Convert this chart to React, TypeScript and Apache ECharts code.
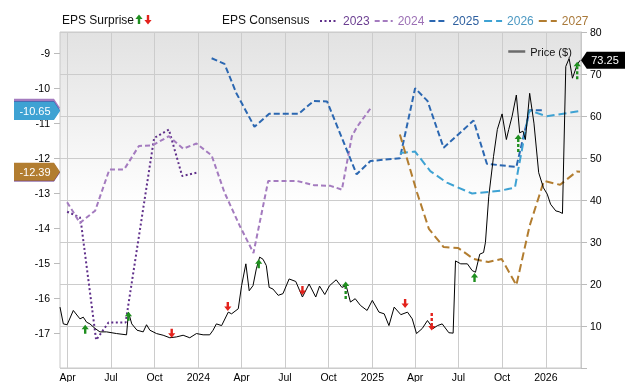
import React, { useEffect, useRef } from 'react';
import * as echarts from 'echarts';

const FONT = '"Liberation Sans", Arial, Helvetica, sans-serif';

const X_MIN = '2023-03-16';
const X_MAX = '2026-03-16';
const X_TICKS = ['2023-04-01', '2023-07-01', '2023-10-01', '2024-01-01', '2024-04-01', '2024-07-01', '2024-10-01', '2025-01-01', '2025-04-01', '2025-07-01', '2025-10-01', '2026-01-01'];
const X_TICK_LABELS = ['Apr', 'Jul', 'Oct', '2024', 'Apr', 'Jul', 'Oct', '2025', 'Apr', 'Jul', 'Oct', '2026'];
const EPS_TICKS = [-17, -16, -15, -14, -13, -12, -11, -10, -9];

const PRICE: [string, number][] = [
  ['2023-03-16', 14.5], ['2023-03-23', 10.5], ['2023-03-31', 10.3], ['2023-04-13', 13.7], ['2023-04-27', 11.7],
  ['2023-05-04', 12.1], ['2023-05-11', 10.9], ['2023-05-18', 10.5], ['2023-05-29', 9.4], ['2023-06-08', 8.6],
  ['2023-06-22', 8.6], ['2023-07-13', 8.2], ['2023-08-03', 7.9], ['2023-08-07', 13.3], ['2023-08-14', 10.5],
  ['2023-08-25', 9.0], ['2023-09-07', 8.6], ['2023-09-14', 10.3], ['2023-09-21', 9.0], ['2023-10-05', 8.2],
  ['2023-10-19', 7.8], ['2023-11-02', 7.2], ['2023-11-16', 7.4], ['2023-11-30', 7.8], ['2023-12-14', 7.2],
  ['2023-12-28', 8.2], ['2024-01-11', 7.9], ['2024-01-25', 7.9], ['2024-02-01', 9.0], ['2024-02-08', 10.5],
  ['2024-02-19', 10.1], ['2024-03-04', 13.3], ['2024-03-11', 12.9], ['2024-03-25', 14.1], ['2024-04-01', 19.6],
  ['2024-04-10', 24.8], ['2024-04-17', 18.4], ['2024-04-25', 19.6], ['2024-05-02', 23.6], ['2024-05-09', 26.4],
  ['2024-05-16', 25.9], ['2024-05-23', 24.4], ['2024-05-29', 19.2], ['2024-06-06', 18.8], ['2024-06-17', 17.3],
  ['2024-06-27', 17.7], ['2024-07-10', 21.2], ['2024-07-24', 20.6], ['2024-08-07', 16.9], ['2024-08-21', 20.0],
  ['2024-09-04', 16.9], ['2024-09-12', 19.5], ['2024-09-23', 17.5], ['2024-10-03', 19.6], ['2024-10-17', 21.0],
  ['2024-10-29', 19.2], ['2024-11-07', 19.6], ['2024-11-16', 15.7], ['2024-11-26', 16.5], ['2024-12-07', 14.9],
  ['2024-12-21', 13.7], ['2025-01-01', 16.1], ['2025-01-15', 13.3], ['2025-01-26', 12.9], ['2025-02-05', 10.1],
  ['2025-02-16', 14.5], ['2025-03-02', 12.7], ['2025-03-16', 13.3], ['2025-03-26', 11.7], ['2025-04-04', 8.2],
  ['2025-04-16', 9.4], ['2025-04-27', 11.3], ['2025-05-09', 9.4], ['2025-05-18', 10.1], ['2025-05-28', 10.5],
  ['2025-06-11', 8.4], ['2025-06-20', 8.3], ['2025-06-25', 25.5], ['2025-07-06', 24.8], ['2025-07-20', 24.8],
  ['2025-07-30', 23.2], ['2025-08-06', 22.8], ['2025-08-15', 27.1], ['2025-08-23', 27.5], ['2025-08-27', 29.9],
  ['2025-09-03', 40.9], ['2025-09-13', 50.4], ['2025-09-21', 56.8], ['2025-10-01', 60.5], ['2025-10-10', 54.4],
  ['2025-10-15', 56.8], ['2025-10-22', 59.9], ['2025-10-31', 65.0], ['2025-11-07', 56.0], ['2025-11-14', 56.4],
  ['2025-11-19', 54.4], ['2025-11-28', 65.4], ['2025-12-07', 58.3], ['2025-12-17', 46.5], ['2025-12-27', 42.9],
  ['2026-01-04', 41.4], ['2026-01-11', 39.0], ['2026-01-22', 37.4], ['2026-01-29', 37.2], ['2026-02-05', 36.8],
  ['2026-02-12', 71.8], ['2026-02-19', 73.7], ['2026-02-26', 69.0], ['2026-03-08', 72.2], ['2026-03-14', 73.25],
];

const EPS_2023: [string, number][] = [
  ['2023-03-31', -13.53], ['2023-04-27', -13.69], ['2023-04-30', -13.93], ['2023-05-31', -17.2],
  ['2023-06-26', -16.7], ['2023-08-01', -16.7], ['2023-09-30', -11.42], ['2023-10-31', -11.18],
  ['2023-11-28', -12.51], ['2023-12-30', -12.41],
];
const EPS_2024: [string, number][] = [
  ['2023-03-31', -13.26], ['2023-04-27', -13.85], ['2023-05-29', -13.5], ['2023-06-28', -12.32],
  ['2023-07-29', -12.32], ['2023-08-29', -11.65], ['2023-09-27', -11.63], ['2023-10-31', -11.37],
  ['2023-11-30', -11.73], ['2023-12-28', -11.58], ['2024-01-29', -11.92], ['2024-02-25', -12.98],
  ['2024-03-28', -13.93], ['2024-04-26', -14.71], ['2024-05-27', -12.65], ['2024-07-26', -12.65],
  ['2024-08-31', -12.77], ['2024-10-05', -12.79], ['2024-10-29', -12.9], ['2024-11-19', -11.37],
  ['2024-11-30', -11.1], ['2024-12-29', -10.56],
];
const EPS_2025: [string, number][] = [
  ['2024-01-29', -9.14], ['2024-02-25', -9.3], ['2024-03-21', -10.14], ['2024-04-28', -11.1],
  ['2024-05-29', -10.73], ['2024-07-30', -10.73], ['2024-08-31', -10.36], ['2024-09-28', -10.38],
  ['2024-11-29', -12.46], ['2024-12-28', -12.08], ['2025-02-28', -12.0], ['2025-04-01', -10.0],
  ['2025-04-27', -10.36], ['2025-05-31', -11.7], ['2025-08-02', -10.92], ['2025-08-30', -12.16],
  ['2025-10-31', -12.25], ['2025-11-28', -10.63], ['2025-12-26', -10.63],
];
const EPS_2026: [string, number][] = [
  ['2025-02-28', -11.85], ['2025-04-01', -11.81], ['2025-05-03', -12.37], ['2025-06-07', -12.7],
  ['2025-07-30', -13.01], ['2025-09-27', -12.93], ['2025-10-28', -12.84], ['2025-11-27', -10.63],
  ['2026-01-03', -10.8], ['2026-03-14', -10.65],
];
const EPS_2027: [string, number][] = [
  ['2025-02-28', -11.32], ['2025-04-05', -12.98], ['2025-04-30', -14.02], ['2025-05-31', -14.54],
  ['2025-07-01', -14.57], ['2025-08-02', -14.88], ['2025-09-02', -14.97], ['2025-09-30', -14.88],
  ['2025-10-31', -15.63], ['2025-11-28', -13.93], ['2025-12-28', -12.65], ['2026-01-31', -12.76],
  ['2026-03-07', -12.38], ['2026-03-14', -12.39],
];

const SURPRISE_DATES = ['2023-05-08', '2023-08-07', '2023-11-06', '2024-03-03', '2024-05-07', '2024-08-07', '2024-11-06', '2025-03-11', '2025-05-06', '2025-08-04', '2025-11-04', '2026-03-08'];
const SURPRISE_PRICE = [10.3, 13.4, 7.2, 13.6, 25.9, 17.4, 20.6, 14.3, 8.9, 22.6, 55.6, 72.9];
const SURPRISE_DIR = [1, 1, -1, -1, 1, -1, 1, -1, -1, 1, 1, 1];
const SURPRISE_LARGE = [false, false, false, false, false, false, true, false, true, false, true, true];

const GREEN = '#1f8f1f';
const RED = '#e3221c';

const ts = (s: string) => Date.parse(s + 'T00:00:00Z');

// labelled: whether its end-value tag is visible (others sit underneath the visible tags)
const YEARS = [
  { name: '2023', data: EPS_2023, color: '#5f2f8a', text: '#6b3e91', dash: [2, 2.5], labelled: false },
  { name: '2024', data: EPS_2024, color: '#a47bbf', text: '#9c70b5', dash: [5, 3], labelled: false },
  { name: '2025', data: EPS_2025, color: '#2b67b1', text: '#2d5f9f', dash: [6, 3], labelled: false },
  { name: '2026', data: EPS_2026, color: '#3ea2d3', text: '#4b98c2', dash: [8, 4], labelled: true },
  { name: '2027', data: EPS_2027, color: '#b27d30', text: '#a9793a', dash: [8, 4], labelled: true },
];

const LEFT_BADGE = 'path://M0,0L40,0L46,9L40,18L0,18Z';
const RIGHT_BADGE = 'path://M6,0L46,0L46,17L6,17L0,8.5Z';

function arrowRender(params: any, api: any) {
  const t = api.value(0);
  const v = api.value(1);
  const dir = api.value(2);
  const large = api.value(3);
  const pt = api.coord([t, v]);
  const x = pt[0];
  const y = pt[1];
  const s = dir > 0 ? 1 : -1;
  const color = dir > 0 ? GREEN : RED;
  const head = 4.5;
  const hw = 3.6;
  const sw = 1.2;
  const children: any[] = [];
  if (large) {
    children.push({
      type: 'line',
      shape: { x1: x, y1: y + s * head, x2: x, y2: y + s * 18 },
      style: { stroke: color, lineWidth: 2.4, lineDash: [3, 2] },
    });
    children.push({
      type: 'polygon',
      shape: { points: [[x, y], [x + hw, y + s * head], [x - hw, y + s * head]] },
      style: { fill: color },
    });
  } else {
    children.push({
      type: 'polygon',
      shape: {
        points: [
          [x, y], [x + hw, y + s * head], [x + sw, y + s * head], [x + sw, y + s * 9],
          [x - sw, y + s * 9], [x - sw, y + s * head], [x - hw, y + s * head],
        ],
      },
      style: { fill: color },
    });
  }
  return { type: 'group', children };
}

function buildOption() {
  const xTickTs = X_TICKS.map(ts);
  const lastPrice = PRICE[PRICE.length - 1][1];

  const yearSeries = YEARS.map((y, i) => {
    const last = y.data[y.data.length - 1][1];
    return {
      type: 'line',
      name: y.name,
      yAxisIndex: 0,
      data: y.data.map(([d, v]) => [ts(d), v]),
      symbol: 'none',
      lineStyle: { color: y.color, width: 2, type: y.dash },
      itemStyle: { color: y.color },
      z: 2 + i * 0.01,
      markPoint: {
        silent: true,
        symbol: LEFT_BADGE,
        symbolSize: [46, 18],
        symbolOffset: [-23, 0],
        itemStyle: { color: y.color },
        label: {
          show: y.labelled,
          position: 'inside',
          color: '#fff',
          fontSize: 11,
          fontFamily: FONT,
          offset: [-2, 0],
          formatter: last.toFixed(2),
        },
        data: [{ coord: [ts(X_MIN), last], value: last }],
      },
    };
  });

  return {
    animation: false,
    textStyle: { fontFamily: FONT },
    grid: {
      left: 60,
      right: 59,
      top: 32,
      bottom: 12,
      show: true,
      borderColor: '#c8c8c8',
      borderWidth: 1,
      backgroundColor: new echarts.graphic.LinearGradient(0, 0, 0, 1, [
        { offset: 0, color: '#e2e2e2' },
        { offset: 0.52, color: '#ffffff' },
        { offset: 1, color: '#ffffff' },
      ]),
    },
    legend: [
      {
        left: 319,
        top: 15,
        padding: 0,
        itemWidth: 18,
        itemHeight: 10,
        itemGap: 4,
        selectedMode: false,
        itemStyle: { opacity: 0 },
        textStyle: { fontSize: 12, fontFamily: FONT },
        data: YEARS.map((y) => ({ name: y.name, textStyle: { color: y.text } })),
      },
      {
        left: 507,
        top: 46,
        padding: 0,
        itemWidth: 17,
        itemHeight: 10,
        selectedMode: false,
        itemStyle: { opacity: 0 },
        lineStyle: { color: '#6b6b6b', width: 2.5, type: 'solid' },
        textStyle: { fontSize: 11, fontFamily: FONT, color: '#111' },
        data: ['Price ($)'],
      },
    ],
    graphic: [
      {
        type: 'text',
        x: 62,
        y: 20,
        style: { text: 'EPS Surprise', fontSize: 12, fontFamily: FONT, fill: '#111', verticalAlign: 'middle' },
      },
      {
        type: 'text',
        x: 222,
        y: 20,
        style: { text: 'EPS Consensus', fontSize: 12, fontFamily: FONT, fill: '#111', verticalAlign: 'middle' },
      },
      {
        type: 'polygon',
        shape: { points: [[139, 14.5], [142.6, 19], [140.2, 19], [140.2, 24], [137.8, 24], [137.8, 19], [135.4, 19]] },
        style: { fill: GREEN },
      },
      {
        type: 'polygon',
        shape: { points: [[148, 24.5], [151.6, 20], [149.2, 20], [149.2, 15], [146.8, 15], [146.8, 20], [144.4, 20]] },
        style: { fill: RED },
      },
    ],
    xAxis: {
      type: 'value',
      min: ts(X_MIN),
      max: ts(X_MAX),
      axisLine: { show: false },
      axisTick: { show: false, customValues: xTickTs },
      splitLine: { show: true, lineStyle: { color: '#cccccc', width: 1 } },
      axisLabel: {
        customValues: xTickTs,
        color: '#000',
        fontSize: 10.5,
        margin: 3,
        formatter: (v: number) => {
          const i = xTickTs.indexOf(v);
          return i >= 0 ? X_TICK_LABELS[i] : '';
        },
      },
    },
    yAxis: [
      {
        type: 'value',
        position: 'left',
        min: -18,
        max: -8.39,
        axisLine: { show: false },
        axisTick: { show: true, length: 6, lineStyle: { color: '#bbbbbb' }, customValues: EPS_TICKS },
        axisLabel: { customValues: EPS_TICKS, color: '#000', fontSize: 10.5, margin: 10 },
        splitLine: { show: false },
      },
      {
        type: 'value',
        position: 'right',
        min: 0,
        max: 80,
        interval: 10,
        axisLine: { show: true, lineStyle: { color: '#c8c8c8' } },
        axisTick: { show: true, length: 6, lineStyle: { color: '#bbbbbb' } },
        axisLabel: {
          color: '#000',
          fontSize: 10.5,
          margin: 9,
          formatter: (v: number) => (v === 0 ? '' : String(v)),
        },
        splitLine: { show: true, lineStyle: { color: '#cccccc', width: 1 } },
      },
    ],
    series: [
      ...yearSeries,
      {
        type: 'line',
        name: 'Price ($)',
        yAxisIndex: 1,
        data: PRICE.map(([d, v]) => [ts(d), v]),
        symbol: 'none',
        lineStyle: { color: '#000', width: 1 },
        itemStyle: { color: '#000' },
        z: 3,
        markPoint: {
          silent: true,
          symbol: RIGHT_BADGE,
          symbolSize: [44, 17],
          symbolOffset: [22, 0],
          itemStyle: { color: '#000', opacity: 1 },
          label: {
            show: true,
            position: 'inside',
            color: '#fff',
            fontSize: 11,
            fontFamily: FONT,
            offset: [2, 0],
            formatter: lastPrice.toFixed(2),
          },
          data: [{ coord: [ts(X_MAX), lastPrice], value: lastPrice }],
        },
      },
      {
        type: 'custom',
        name: 'EPS Surprise',
        yAxisIndex: 1,
        renderItem: arrowRender,
        encode: { x: 0, y: 1 },
        z: 10,
        data: SURPRISE_DATES.map((d, i) => [ts(d), SURPRISE_PRICE[i], SURPRISE_DIR[i], SURPRISE_LARGE[i] ? 1 : 0]),
      },
    ],
  };
}

export default function App() {
  const ref = useRef<HTMLDivElement>(null);
  useEffect(() => {
    if (!ref.current) return;
    const chart = echarts.init(ref.current, null, { renderer: 'svg' });
    chart.setOption(buildOption() as any);
    return () => chart.dispose();
  }, []);
  return <div ref={ref} style={{ position: 'fixed', left: 0, top: 0, width: 640, height: 382 }} />;
}
